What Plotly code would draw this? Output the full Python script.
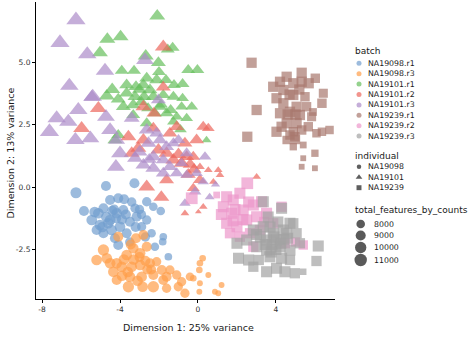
import plotly.graph_objects as go

W, H = 474, 338

batches = ["NA19098.r1", "NA19098.r3", "NA19101.r1", "NA19101.r2",
           "NA19101.r3", "NA19239.r1", "NA19239.r2", "NA19239.r3"]
batch_colors = ["#729ECE", "#FF9E4A", "#67BF5C", "#ED665D",
                "#AD8BC9", "#A8786E", "#ED97CA", "#A2A2A2"]
individuals = ["NA19098", "NA19101", "NA19239"]
ind_symbols = ["circle", "triangle-up", "square"]
batch_individual = ["NA19098", "NA19098", "NA19101", "NA19101",
                    "NA19101", "NA19239", "NA19239", "NA19239"]
size_breaks = [8000, 9000, 10000, 11000]

x_ticks = [-8, -4, 0, 4]
y_ticks = [-2.5, 0.0, 2.5, 5.0]
x_title = "Dimension 1: 25% variance"
y_title = "Dimension 2: 13% variance"

# ---- per-batch data (x, y, total_features_by_counts) ----
b1_x = [-6.26, -4.72, -3.26, -5.85, -5.11, -4.85, -4.51, -4.09, -3.79, -3.23, -2.63, -2.29, -1.91, -5.45, -5.03, -4.51, -4.17, -3.83, -4.0, -3.49, -3.15, -2.89, -4.85, -4.26, -3.66, -2.63, -2.38, -1.78, -1.81, -2.21, -1.52, -4.09, -4.43, -5.20, -4.7, -4.3, -3.0, -3.4, -5.3, -3.9, -3.2, -2.7, -3.5, -4.9, -4.6, -4.2, -4.4, -3.7, -2.9]
b1_y = [-0.23, 0.04, 0.15, -0.96, -1.05, -0.85, -0.52, -0.45, -0.49, -0.85, -0.59, -0.79, -0.96, -1.32, -1.52, -1.32, -1.05, -0.92, -1.59, -1.39, -1.19, -1.59, -1.85, -2.05, -1.85, -1.32, -1.85, -1.99, -2.19, -2.39, -2.79, -2.32, -1.72, -1.72, -1.2, -0.9, -0.9, -0.6, -1.0, -1.3, -1.6, -2.0, -2.2, -1.6, -1.45, -1.25, -0.95, -1.1, -1.1]
b1_c = [9800, 9000, 9000, 9000, 9500, 9000, 9000, 9000, 9000, 8500, 8500, 8000, 8000, 9500, 9500, 9500, 9500, 9000, 9500, 9000, 9000, 8500, 9000, 9000, 9000, 8500, 8000, 7500, 7500, 8000, 7500, 9000, 9500, 9000, 9500, 9000, 8500, 8500, 9500, 9000, 9000, 8500, 8500, 9500, 9500, 9000, 9000, 9000, 8500]

b2_x = [-4.09, -3.18, -2.80, -4.85, -5.20, -4.68, -4.17, -3.66, -3.32, -2.97, -2.63, -3.91, -3.40, -2.97, -2.46, -2.12, -3.49, -2.89, -2.29, -3.57, -2.84, -2.29, -1.78, -1.61, -1.44, -1.09, -0.84, -0.67, -1.01, -1.61, -0.41, -0.24, 0.10, 0.07, 0.53, 0.24, 0.10, 0.87, 1.04, 1.21, 0.07, -1.86, -4.34, -4.17, -4.51, -3.0, -3.6, -2.6, -3.3, -3.8, -3.1, -2.7, -3.9, -3.45, -2.4]
b2_y = [-1.99, -2.05, -1.92, -2.52, -2.92, -2.85, -3.05, -2.72, -2.45, -2.65, -2.39, -3.19, -3.19, -3.12, -3.05, -2.99, -3.59, -3.59, -3.52, -3.99, -3.99, -3.99, -3.72, -3.59, -3.32, -3.52, -3.79, -4.25, -3.99, -4.05, -3.59, -3.65, -3.05, -3.32, -3.52, -2.85, -3.85, -4.19, -4.25, -3.92, -4.19, -3.32, -3.39, -3.72, -3.05, -2.8, -3.4, -3.3, -2.9, -2.9, -3.75, -2.95, -3.55, -2.3, -3.3]
b2_c = [9000, 9000, 9000, 10000, 9500, 9500, 9500, 9500, 9500, 9500, 9000, 9500, 9500, 9500, 9000, 8500, 9500, 9500, 9000, 10000, 9500, 10000, 9000, 9000, 8500, 8500, 8500, 8500, 8500, 8500, 8000, 7000, 7000, 7000, 6700, 7000, 6700, 6700, 6700, 6700, 6700, 9000, 9500, 9000, 9500, 9000, 9500, 9000, 9500, 9500, 9500, 9000, 9500, 9000, 9000]

b3_x = [-2.09, -3.97, -4.65, -5.03, -2.68, -2.03, -1.30, -3.91, -3.28, -2.12, -2.63, -1.64, -1.23, -0.79, -0.50, -0.03, -3.66, -3.18, -2.80, -2.46, -3.66, -3.23, -2.77, -2.29, -1.78, -1.26, -0.79, -3.83, -3.32, -2.56, -1.95, -1.40, -0.84, -0.32, -3.32, -2.21, -1.61, -1.09, -0.58, -1.26, -2.63, -4.26, -4.09, 0.44, -4.68, -4.09, -1.55, -3.0, -2.0, -4.4, -1.9, -2.9, -0.9]
b3_y = [6.84, 6.01, 5.91, 5.37, 5.24, 4.97, 5.57, 4.65, 4.65, 4.28, 4.35, 4.28, 4.08, 4.12, 4.68, 4.68, 4.08, 4.01, 4.08, 3.88, 3.75, 3.61, 3.61, 3.61, 3.68, 3.61, 3.55, 3.21, 3.28, 3.15, 3.21, 3.08, 3.21, 3.21, 2.88, 2.95, 2.95, 2.81, 2.75, 2.61, 2.55, 1.88, 2.08, 1.88, 3.64, 3.51, 5.50, 3.9, 4.6, 3.9, 3.3, 3.4, 2.3]
b3_c = [9500, 9500, 9500, 9500, 9500, 9000, 8500, 8500, 8500, 9000, 9000, 8500, 8500, 8500, 8500, 8500, 9000, 9000, 9000, 9000, 9000, 9000, 9000, 9000, 8500, 8500, 8000, 9000, 9000, 8500, 8500, 8500, 8000, 8000, 8500, 8500, 8500, 8000, 8000, 8000, 8500, 9000, 8500, 7000, 9500, 9000, 8500, 9000, 8500, 9500, 8500, 8500, 8000]

b4_x = [-1.78, -5.11, -5.97, -2.80, -2.26, -1.78, -3.57, -3.06, -3.40, -2.80, -2.29, -2.03, -1.61, -1.26, -0.84, -0.58, -2.63, -1.88, -1.44, -1.09, -0.67, -0.07, 0.27, 0.53, -0.24, 0.10, 0.53, 1.04, 0.10, -0.24, 0.79, 1.13, -0.67, 0.02, 0.27, 3.01, -1.61, -0.5, -0.2, -1.0, -0.4]
b4_y = [5.61, 3.15, 2.35, 3.21, 2.95, 3.99, 2.01, 1.55, 1.35, 1.88, 2.35, 1.48, 1.35, 1.08, 0.95, 1.21, 0.01, -0.41, 2.15, 2.41, 1.75, 1.88, 2.41, 2.35, 1.21, 0.81, 0.68, 0.68, 0.28, -0.05, 0.21, 0.48, -1.05, -0.99, -0.79, 0.41, 0.28, 0.5, 0.7, 1.3, 0.9]
b4_c = [10000, 10000, 10000, 9500, 9000, 9000, 9500, 9500, 9500, 9500, 9000, 9500, 9500, 9500, 9500, 9000, 10000, 9500, 9000, 9000, 9000, 9000, 8500, 8000, 8500, 7000, 6700, 6700, 8500, 8000, 6700, 6700, 6700, 6300, 6700, 6700, 9000, 9000, 9000, 9500, 9000]

b5_x = [-6.26, -7.08, -5.68, -4.77, -6.60, -5.40, -6.14, -7.25, -6.65, -7.62, -6.29, -5.52, -4.72, -4.51, -4.17, -4.0, -4.21, -2.72, -3.40, -2.63, -2.12, -2.54, -1.95, -1.26, -2.29, -1.78, -2.80, -2.29, -1.78, -1.44, -1.09, -0.84, -0.58, -0.07, 0.27, -0.15, -0.67, 0.36, -3.23, -1.61, -0.58, -2.03, -1.0, -5.45, -3.0, -2.5, 0.6, 0.9]
b5_y = [6.68, 5.77, 5.31, 4.65, 4.05, 3.61, 3.08, 2.75, 2.61, 2.21, 1.88, 1.95, 2.81, 2.28, 1.88, 1.35, 0.81, 5.08, 2.75, 2.28, 2.15, 1.75, 1.88, 1.75, 1.21, 1.08, 0.88, 0.75, 0.55, 0.81, 0.55, 0.95, 0.48, 0.55, 0.21, -0.19, -0.65, 1.21, 1.15, 1.61, 1.35, 3.48, 1.88, 3.6, 1.4, 1.1, -0.4, 0.1]
b5_c = [11500, 11500, 11000, 11000, 11000, 11000, 11000, 11000, 11000, 11500, 11000, 10600, 10600, 10600, 10000, 10600, 10600, 10600, 9500, 9500, 9000, 9500, 9000, 8500, 9500, 9000, 9500, 9500, 9000, 9000, 8500, 8000, 8000, 8000, 7500, 8000, 7500, 8000, 9500, 9000, 8500, 9000, 8500, 10000, 9500, 9000, 7000, 6800]

b6_x = [2.75, 3.01, 2.53, 5.32, 4.55, 4.21, 3.86, 4.38, 4.89, 5.68, 6.02, 5.32, 6.43, 4.89, 5.49, 4.38, 5.06, 5.57, 6.36, 4.21, 4.72, 5.23, 5.83, 4.55, 5.06, 5.66, 4.29, 4.89, 5.32, 6.08, 6.75, 6.36, 4.97, 4.55, 4.72, 5.40, 6.0, 5.40, 5.32, 6.0, 4.03, 4.03, 4.89, 4.7, 5.2, 4.6, 5.0, 5.9, 5.0]
b6_y = [4.97, 3.08, 2.01, 4.57, 4.41, 4.21, 4.01, 3.88, 4.15, 4.15, 4.35, 4.21, 3.75, 3.68, 3.61, 3.35, 3.21, 3.21, 3.35, 2.95, 3.01, 2.88, 2.81, 2.55, 2.55, 2.41, 2.41, 2.21, 2.28, 2.15, 2.28, 2.21, 2.01, 1.88, 2.08, 1.68, 1.35, 1.15, 0.81, 0.75, 3.55, 2.21, 1.61, 3.7, 3.9, 2.9, 2.9, 3.0, 1.9]
b6_c = [8500, 8500, 8500, 8500, 8500, 8500, 8500, 8500, 8500, 8500, 8000, 8500, 7800, 8500, 8000, 8500, 8500, 8000, 8000, 8500, 8500, 8500, 7800, 8500, 8500, 8000, 8500, 8000, 8000, 7500, 7500, 7500, 8000, 7500, 8000, 6800, 7000, 6500, 6500, 6500, 8500, 8500, 7000, 8500, 8500, 8500, 8500, 7200, 8000]

b7_x = [-0.32, 2.53, 1.47, 1.81, 2.15, 1.30, 1.73, 2.32, 2.84, 3.26, 1.47, 2.0, 2.50, 3.01, 3.52, 4.29, 1.64, 2.15, 2.67, 3.18, 3.86, 4.46, 5.40, 2.84, 0.96, 1.2, 2.3, 1.9, 2.6, 3.4, 1.8, 5.0]
b7_y = [-0.45, 0.15, -0.39, -0.52, -0.25, -0.79, -1.05, -0.92, -0.72, -0.59, -1.45, -1.59, -1.32, -1.19, -1.05, -0.79, -1.85, -1.99, -1.85, -1.72, -1.45, -2.25, -2.32, -2.39, -0.32, -1.1, -1.3, -0.9, -0.6, -1.4, -1.35, -2.2]
b7_c = [9500, 9500, 9000, 9000, 9000, 9000, 9000, 9000, 9000, 9000, 9000, 9000, 9000, 9000, 9000, 8500, 8500, 8500, 8500, 8500, 8500, 8500, 8000, 8500, 6800, 9000, 9000, 9000, 9000, 8500, 9000, 8000]

b8_x = [3.35, 4.29, 2.84, 3.35, 3.86, 4.38, 4.72, 3.52, 4.03, 4.55, 5.06, 2.0, 2.50, 3.01, 3.52, 4.21, 4.72, 5.23, 6.17, 2.08, 2.60, 3.12, 3.69, 4.29, 4.72, 6.08, 3.52, 4.03, 4.46, 4.97, 5.40, 2.84, 4.89, 3.7, 4.0, 3.2, 4.4, 3.8, 3.0, 4.1, 3.6, 3.9, 4.25, 3.45, 4.6, 3.75]
b8_y = [-0.59, -0.85, -1.72, -1.59, -1.85, -1.72, -1.45, -2.12, -2.12, -1.85, -1.85, -2.25, -2.12, -2.39, -2.52, -2.39, -2.52, -2.25, -2.36, -2.85, -2.92, -2.92, -2.79, -2.85, -2.92, -2.96, -3.39, -3.25, -3.39, -3.45, -3.39, -3.19, -1.45, -1.6, -2.5, -2.0, -2.1, -2.3, -1.9, -1.4, -1.2, -2.0, -2.25, -2.3, -2.05, -2.6]
b8_c = [9000, 9000, 9000, 9000, 9000, 9000, 9000, 9000, 9000, 9000, 8500, 9000, 9000, 9000, 9000, 9000, 9000, 8500, 9000, 9000, 9000, 8500, 9000, 9000, 8500, 8500, 9000, 9000, 9000, 8500, 6700, 8500, 8500, 9000, 9000, 9000, 9000, 9000, 9000, 9000, 9000, 9000, 9000, 9000, 9000, 9000]

batch_x = [b1_x, b2_x, b3_x, b4_x, b5_x, b6_x, b7_x, b8_x]
batch_y = [b1_y, b2_y, b3_y, b4_y, b5_y, b6_y, b7_y, b8_y]
batch_c = [b1_c, b2_c, b3_c, b4_c, b5_c, b6_c, b7_c, b8_c]

# ---- styling ----
FONT = "DejaVu Sans"
ALPHA = 0.7
C_MIN, C_MAX = 6000, 11600
D_MIN, D_MAX = 2.0, 13.0
SYMBOL_SCALE = {"circle": 1.0, "triangle-up": 1.3, "square": 1.1}


def size_px(c):
    t = (c - C_MIN) / (C_MAX - C_MIN)
    t = min(max(t, 0.0), 1.0)
    return D_MIN + (D_MAX - D_MIN) * t ** 0.5


# plot area in pixels
PL, PR, PT, PB = 36, 335, 2, 299

fig = go.Figure()

for i, name in enumerate(batches):
    sym = ind_symbols[individuals.index(batch_individual[i])]
    fig.add_trace(go.Scatter(
        x=batch_x[i], y=batch_y[i], mode="markers",
        marker=dict(color=batch_colors[i], symbol=sym, opacity=ALPHA,
                    size=[size_px(c) * SYMBOL_SCALE[sym] for c in batch_c[i]],
                    line=dict(width=0)),
        showlegend=False, hoverinfo="skip", xaxis="x", yaxis="y"))

# ---- hand-built ggplot-style legend on a pixel overlay axis ----
LX = 354
annotations = []


def add_text(x, y, text, size, color="#1a1a1a"):
    annotations.append(dict(x=x, y=y, xref="x2", yref="y2", text=text,
                            showarrow=False, xanchor="left", yanchor="middle",
                            font=dict(family=FONT, size=size, color=color)))


add_text(LX - 1, 50.5, "batch", 9)
for i, name in enumerate(batches):
    yy = 63.3 + i * 10.4
    fig.add_trace(go.Scatter(x=[359], y=[yy], mode="markers",
                             marker=dict(color=batch_colors[i], size=5, opacity=ALPHA),
                             showlegend=False, hoverinfo="skip", xaxis="x2", yaxis="y2"))
    add_text(366, yy, name, 7.8)

add_text(LX - 1, 155.5, "individual", 9)
for i, name in enumerate(individuals):
    yy = 166.7 + i * 10.5
    fig.add_trace(go.Scatter(x=[359], y=[yy], mode="markers",
                             marker=dict(color="#4d4d4d", size=5 * SYMBOL_SCALE[ind_symbols[i]] * 0.9,
                                         symbol=ind_symbols[i], opacity=0.9),
                             showlegend=False, hoverinfo="skip", xaxis="x2", yaxis="y2"))
    add_text(366, yy, name, 7.8)

add_text(LX - 1, 209.5, "total_features_by_counts", 9)
size_y = [224, 235.5, 247.5, 260]
for i, b in enumerate(size_breaks):
    fig.add_trace(go.Scatter(x=[360.7], y=[size_y[i]], mode="markers",
                             marker=dict(color="#5a5a5a", size=size_px(b)),
                             showlegend=False, hoverinfo="skip", xaxis="x2", yaxis="y2"))
    add_text(372, size_y[i], str(b), 7.8)

# axis titles
annotations.append(dict(x=(PL + PR) / 2 + 3, y=327, xref="x2", yref="y2", text=x_title,
                        showarrow=False, xanchor="center", yanchor="middle",
                        font=dict(family=FONT, size=9.5, color="#1a1a1a")))
annotations.append(dict(x=10, y=(PT + PB) / 2 + 3, xref="x2", yref="y2", text=y_title,
                        showarrow=False, xanchor="center", yanchor="middle", textangle=-90,
                        font=dict(family=FONT, size=9.5, color="#1a1a1a")))

fig.update_layout(
    width=W, height=H,
    margin=dict(l=0, r=0, t=0, b=0),
    paper_bgcolor="white", plot_bgcolor="rgba(0,0,0,0)",
    showlegend=False,
    font=dict(family=FONT, size=8, color="#333333"),
    xaxis=dict(domain=[PL / W, PR / W], range=[-8.31, 7.03],
               tickvals=x_ticks, ticktext=[str(v) for v in x_ticks],
               showgrid=False, zeroline=False, showline=True, linecolor="black", linewidth=1,
               ticks="outside", ticklen=3, tickcolor="black", tickwidth=1,
               tickfont=dict(family=FONT, size=7.5, color="#333333"),
               automargin=False, anchor="y"),
    yaxis=dict(domain=[1 - PB / H, 1 - PT / H], range=[-4.48, 7.4],
               tickvals=y_ticks, ticktext=[f"{v:.1f}" for v in y_ticks],
               showgrid=False, zeroline=False, showline=True, linecolor="black", linewidth=1,
               ticks="outside", ticklen=3, tickcolor="black", tickwidth=1,
               tickfont=dict(family=FONT, size=7.5, color="#333333"),
               automargin=False, anchor="x"),
    xaxis2=dict(domain=[0, 1], range=[0, W], visible=False, fixedrange=True, anchor="y2"),
    yaxis2=dict(domain=[0, 1], range=[H, 0], visible=False, fixedrange=True, anchor="x2"),
    annotations=annotations,
)

fig.write_html("out.html")
